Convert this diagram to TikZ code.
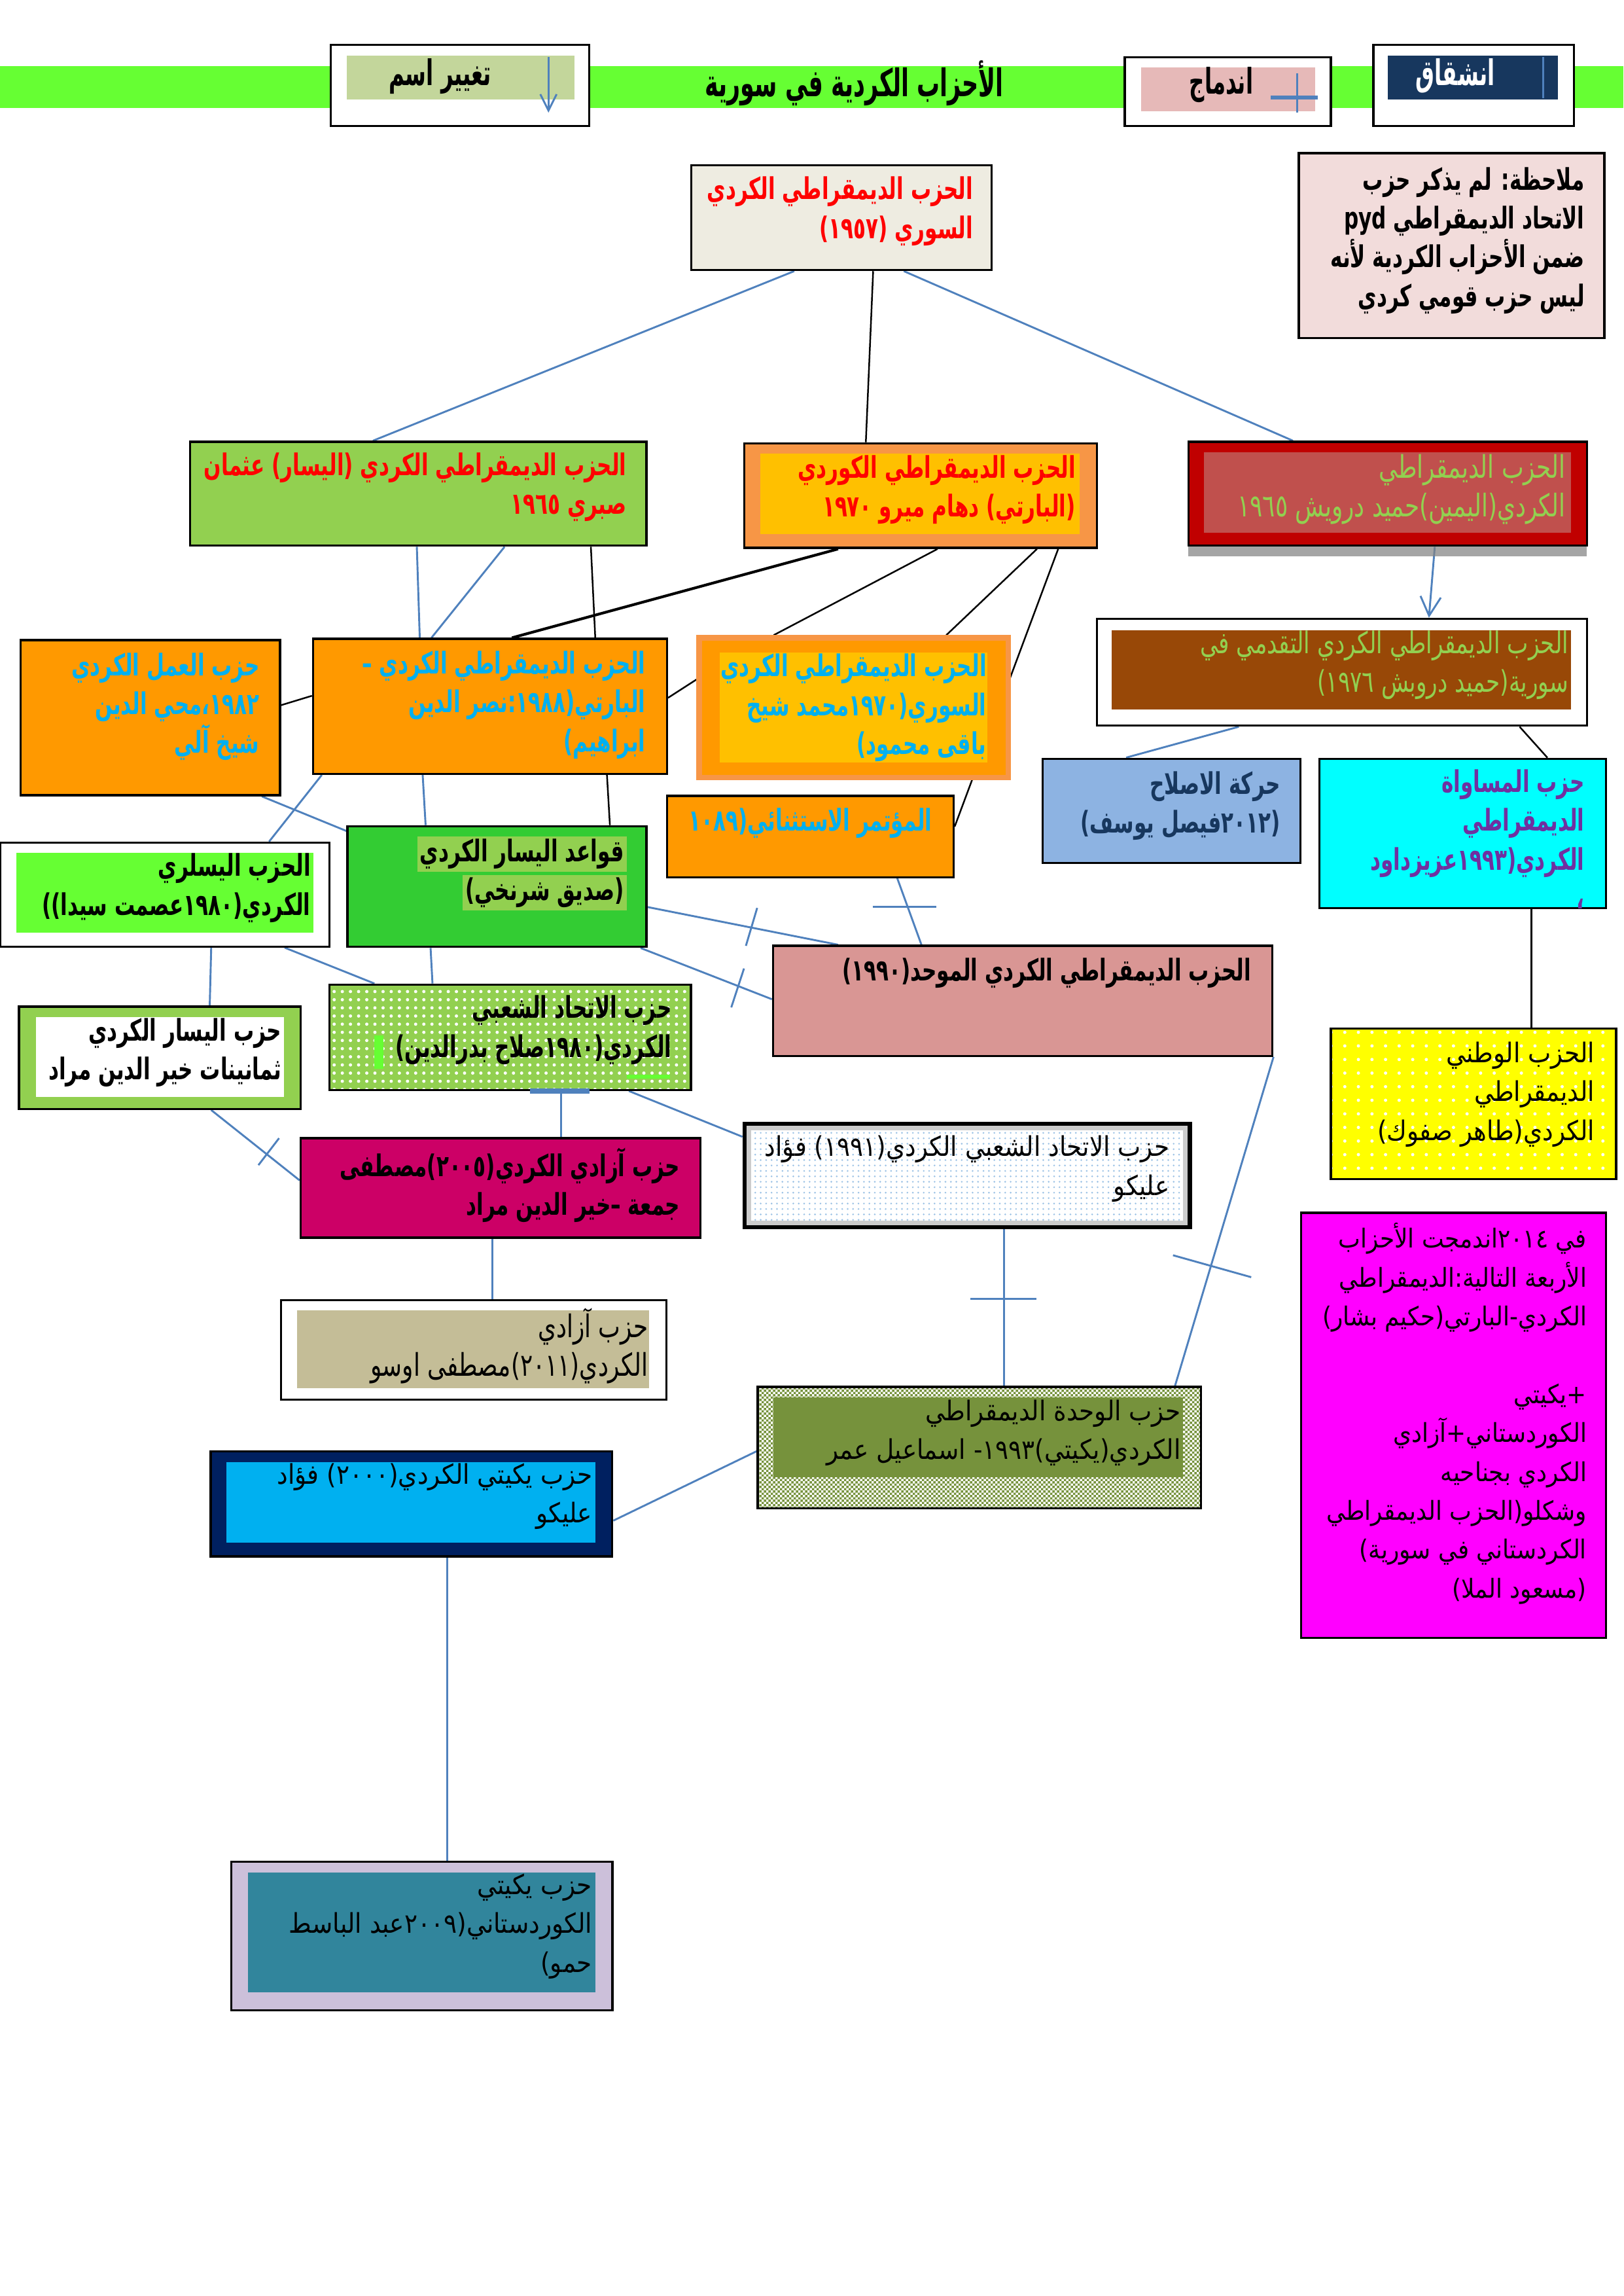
\documentclass[tikz,border=0pt]{standalone}
\usepackage{fontspec}
\newfontfamily\arabicfont[Script=Arabic,FakeStretch=0.68]{DejaVu Sans}
\newfontfamily\arabicmid[Script=Arabic,FakeStretch=0.75]{DejaVu Sans}
\newfontfamily\arabicwide[Script=Arabic,FakeStretch=0.9]{DejaVu Sans}
\newfontfamily\arabictight[Script=Arabic,FakeStretch=0.6]{DejaVu Sans}
\TeXXeTstate=1
\usetikzlibrary{patterns,patterns.meta,shadows,arrows.meta}
\newcommand{\pxu}{0.018919cm}
\setlength{\fboxsep}{1pt}
\lineskiplimit=-20pt
\pgfdeclarepatternformonly{finechecker}{\pgfpointorigin}{\pgfqpoint{1.8pt}{1.8pt}}{\pgfqpoint{1.8pt}{1.8pt}}{\pgfpathrectangle{\pgfpointorigin}{\pgfqpoint{0.9pt}{0.9pt}}\pgfpathrectangle{\pgfqpoint{0.9pt}{0.9pt}}{\pgfqpoint{0.9pt}{0.9pt}}\pgfusepath{fill}}
\definecolor{bandgreen}{HTML}{66FF33}
\definecolor{renamegreen}{HTML}{C3D69B}
\definecolor{mergepink}{HTML}{E6B9B8}
\definecolor{splitnavy}{HTML}{17375E}
\definecolor{pale}{HTML}{EEECE1}
\definecolor{notepink}{HTML}{F2DCDB}
\definecolor{leafgreen}{HTML}{92D050}
\definecolor{lightorange}{HTML}{F79646}
\definecolor{amber}{HTML}{FFC000}
\definecolor{darkred}{HTML}{C00000}
\definecolor{indian}{HTML}{C0504D}
\definecolor{rust}{HTML}{984807}
\definecolor{orange9}{HTML}{FF9900}
\definecolor{sky}{HTML}{00B0F0}
\definecolor{steel}{HTML}{8DB3E2}
\definecolor{navytext}{HTML}{17375E}
\definecolor{aqua}{HTML}{00FFFF}
\definecolor{grape}{HTML}{7030A0}
\definecolor{grass}{HTML}{33CC33}
\definecolor{rose}{HTML}{D99694}
\definecolor{crimson}{HTML}{CC0066}
\definecolor{khaki}{HTML}{C4BD97}
\definecolor{dotblue}{HTML}{9DC3E6}
\definecolor{moss}{HTML}{76923C}
\definecolor{navy}{HTML}{002060}
\definecolor{lavender}{HTML}{CCC0DA}
\definecolor{petrol}{HTML}{31859C}
\definecolor{linkblue}{HTML}{4F81BD}
\definecolor{yellowbox}{HTML}{FFFF00}
\definecolor{magentabox}{HTML}{FF00FF}
\definecolor{redtext}{HTML}{FF0000}
\pgfdeclarelayer{background}
\pgfsetlayers{background,main}
\tikzset{
  box/.style={draw=black, line width=0.8pt, rectangle, inner sep=0pt},
  wh/.style 2 args={minimum width=#1*\pxu, minimum height=#2*\pxu},
  band/.style n args={5}{path picture={\fill[#1] ([shift={(#2,#3)}]path picture bounding box.north west) rectangle ([shift={(-#4,-#5)}]path picture bounding box.south east);}},
  txt/.style={inner sep=0pt, anchor=east, align=right, font=\arabicfont\bfseries\fontsize{11}{14.3}\selectfont},
  lighttxt/.style={font=\arabicmid\fontsize{11.5}{14.3}\selectfont},
  rtxt/.style={inner sep=0pt, anchor=east, align=right, font=\arabicwide\fontsize{10}{14.3}\selectfont},
  legend/.style={inner sep=0pt, font=\arabictight\bfseries\fontsize{13}{15}\selectfont},
  link/.style={draw=linkblue, line width=0.7pt},
  blk/.style={draw=black, line width=0.6pt},
}
\begin{document}
\begin{tikzpicture}[x=0.018919cm, y=-0.018919cm]
  \useasboundingbox (0,0) rectangle (1110,1569.4);
  \fill[bandgreen] (0,45) rectangle (1110,74);
  \node[box, fill=white, wh={177}{55.5}, band={renamegreen}{11}{7.5}{10}{18}] (rename) at (314.5,58.25) {};
  \node[legend] (renamet) at (301,52) {\beginR تغيير اسم\endR};
  \draw[link, -{Straight Barb[length=6pt,width=6pt]}] (375,39) -- (375,77);
  \node[box, fill=white, wh={141}{47}, band={mergepink}{11}{7}{11}{10}] (merge) at (839.5,62.5) {};
  \node[legend] (merget) at (835,58) {\beginR اندماج\endR};
  \draw[link] (887,50) -- (887,77);
  \draw[link, line width=1.6pt] (869,66.7) -- (901,66.7);
  \node[box, fill=white, wh={137}{55.5}, band={splitnavy}{10}{7.5}{11}{18}] (split) at (1007.5,58.25) {};
  \node[legend, text=white] (splitt) at (995,52) {\beginR انشقاق\endR};
  \draw[link] (1055,39) -- (1055,67);
  \node[legend, font=\arabictight\bfseries\fontsize{14}{16}\selectfont] (title) at (584,57) {\beginR الأحزاب الكردية في سورية\endR};

  \node[box, fill=pale, wh={205.3}{71.6}, label={[txt, text=redtext, xshift=-13*\pxu, yshift=4.5*\pxu, name=sdpt]east:{\beginR الحزب الديمقراطي الكردي\endR\\\beginR السوري  (١٩٥٧)\endR}}] (sdp) at (575.35,148.8) {};
  \node[box, fill=notepink, wh={209}{126.3}, label={[txt, xshift=-14*\pxu, yshift=3.5*\pxu, name=notet]east:{\beginR ملاحظة: لم يذكر حزب\endR\\\beginR الاتحاد الديمقراطي pyd\endR\\\beginR ضمن الأحزاب الكردية لأنه\endR\\\beginR ليس حزب قومي كردي\endR}}] (note) at (992.5,167.85) {};
  \node[box, fill=leafgreen, wh={312}{71}, label={[txt, text=redtext, xshift=-14*\pxu, yshift=4.5*\pxu, name=lspt]east:{\beginR الحزب الديمقراطي الكردي (اليسار) عثمان\endR\\\beginR صبري ١٩٦٥\endR}}] (lsp) at (286,337.5) {};
  \node[box, fill=lightorange, wh={241}{71.5}, band={amber}{11}{7}{12}{9.5}, label={[txt, text=redtext, xshift=-15*\pxu, yshift=4*\pxu, name=barti70t]east:{\beginR الحزب الديمقراطي الكوردي\endR\\\beginR (البارتي) دهام ميرو  ١٩٧٠\endR}}] (barti70) at (629.5,338.75) {};
  \node[box, fill=darkred, wh={272.5}{71}, band={indian}{10.5}{7}{11}{9}, drop shadow={shadow xshift=0pt, shadow yshift=-4pt, fill=black!50, opacity=0.7}, label={[txt, lighttxt, text=leafgreen, xshift=-15*\pxu, yshift=3*\pxu, name=rspt]east:{\beginR الحزب الديمقراطي\endR\\\beginR الكردي(اليمين)حميد درويش ١٩٦٥\endR}}] (rsp) at (948.75,337.5) {};
  \node[box, fill=white, wh={335}{73}, band={rust}{10}{8}{11}{11}, label={[txt, lighttxt, font=\arabicmid\fontsize{11}{14.3}\selectfont, text=leafgreen, xshift=-13*\pxu, yshift=5*\pxu, name=progt]east:{\beginR الحزب الديمقراطي الكردي التقدمي في\endR\\\beginR سورية(حميد دروبش ١٩٧٦)\endR}}] (prog) at (917.5,459.5) {};

  \node[box, fill=orange9, wh={177.5}{106}, label={[txt, text=sky, xshift=-14.5*\pxu, yshift=7.6*\pxu, name=amalt]east:{\beginR حزب العمل الكردي\endR\\\beginR ١٩٨٢،محي الدين\endR\\\beginR شيخ آلي\endR}}] (amal) at (102.75,490.6) {};
  \node[box, fill=orange9, wh={242}{92.3}, label={[txt, text=sky, xshift=-15*\pxu, yshift=1*\pxu, name=barti88t]east:{\beginR الحزب الديمقراطي الكردي –\endR\\\beginR البارتي(١٩٨٨:نصر الدين\endR\\\beginR ابراهيم)\endR}}] (barti88) at (335,482.85) {};
  \node[box, draw=lightorange, line width=2pt, fill=orange9, wh={211.5}{95.6}, band={amber}{14}{10}{14.5}{10.6}, label={[txt, text=sky, xshift=-16.5*\pxu, name=sdps70t]east:{\beginR الحزب الديمقراطي الكردي\endR\\\beginR السوري(١٩٧٠محمد شيخ\endR\\\beginR باقى محمود)\endR}}] (sdps70) at (583.75,483.8) {};
  \node[box, fill=orange9, wh={196}{55.6}, label={[txt, text=sky, xshift=-15*\pxu, yshift=9*\pxu, name=mutamart]east:{\beginR المؤتمر الاستثنائي(١٠٨٩\endR}}] (mutamar) at (554,571.8) {};
  \node[box, fill=steel, wh={176}{71.2}, label={[txt, text=navytext, xshift=-14*\pxu, yshift=3.5*\pxu, name=islaht]east:{\beginR حركة الاصلاح\endR\\\beginR (٢٠١٢فيصل يوسف)\endR}}] (islah) at (801,554.2) {};
  \node[box, fill=aqua, wh={196}{102}, label={[txt, text=grape, xshift=-15*\pxu, yshift=-4*\pxu, name=equalt]east:{\beginR حزب المساواة\endR\\\beginR الديمقراطي\endR\\\beginR الكردي(١٩٩٣عزيزداود\endR\\\beginR ،\endR}}] (equal) at (1000,569.65) {};

  \node[box, fill=grass, wh={204.4}{82.5}, label={[txt, xshift=-14*\pxu, yshift=9*\pxu, name=qawaidt]east:{\colorbox{leafgreen}{\beginR قواعد اليسار الكردي\endR}\\\colorbox{leafgreen}{\beginR (صديق شرنخي)\endR}}}] (qawaid) at (339.8,606) {};
  \node[box, fill=white, wh={225.4}{71}, band={bandgreen}{11}{7}{11}{9.4}, label={[txt, xshift=-13.4*\pxu, yshift=4.5*\pxu, name=yasarit]east:{\beginR الحزب اليسلري\endR\\\beginR الكردي(١٩٨٠عصمت سيدا))\endR}}] (yasari) at (112.7,611.5) {};
  \node[box, fill=leafgreen, wh={192.6}{70}, band={white}{11.5}{7}{11.6}{8}, label={[txt, xshift=-13.6*\pxu, yshift=3.5*\pxu, name=yasart]east:{\beginR حزب اليسار الكردي\endR\\\beginR ثمانينات خير الدين مراد\endR}}] (yasar) at (109.3,723) {};
  \node[box, preaction={fill=leafgreen}, pattern={Dots[distance=3pt, radius=0.6pt]}, pattern color=white, wh={247}{72}, label={[txt, xshift=-13.5*\pxu, yshift=5*\pxu, name=shabi80t]east:{\beginR حزب الاتحاد الشعبي\endR\\\beginR الكردي(١٩٨٠صلاح بدرالدين)\endR}}] (shabi80) at (348.9,709) {};
  \fill[bandgreen] (255.8,707.7) rectangle (262,730.7);
  \fill[bandgreen] (428.4,734.5) rectangle (458.3,737.4);
  \node[box, fill=rose, wh={341.5}{75.2}, label={[txt, xshift=-15*\pxu, yshift=19*\pxu, name=pinkt]east:{\beginR الحزب الديمقراطي الكردي الموحد(١٩٩٠)\endR}}] (pink) at (699.25,684.1) {};
  \node[box, preaction={fill=yellowbox}, pattern={Dots[distance=5pt, radius=0.6pt]}, pattern color=white, wh={195}{103}, label={[rtxt, xshift=-15*\pxu, yshift=6.5*\pxu, name=yellowt]east:{\beginR الحزب الوطني\endR\\\beginR الديمقراطي\endR\\\beginR الكردي(طاهر صفوك)\endR}}] (yellow) at (1007.5,754.5) {};
  \node[box, fill=magentabox, wh={208.5}{290.5}, label={[rtxt, font=\arabicwide\fontsize{9.6}{14.3}\selectfont, xshift=-13.5*\pxu, yshift=8*\pxu, name=mergedt]east:{\beginR في ٢٠١٤اندمجت الأحزاب\endR\\\beginR الأربعة التالية:الديمقراطي\endR\\\beginR الكردي-البارتي(حكيم بشار)\endR\\[14.3pt]\beginR +يكيتي\endR\\\beginR الكوردستاني+آزادي\endR\\\beginR الكردي بجناحيه\endR\\\beginR وشكلو(الحزب الديمقراطي\endR\\\beginR الكردستاني في سورية)\endR\\\beginR (مسعود الملا)\endR}}] (merged) at (993.75,974.25) {};

  \node[box, fill=crimson, wh={273.4}{68}, label={[txt, xshift=-14.4*\pxu, yshift=2*\pxu, name=azadi05t]east:{\beginR حزب آزادي الكردي(٢٠٠٥)مصطفى\endR\\\beginR جمعة –خير الدين مراد\endR}}] (azadi05) at (342.3,812) {};
  \node[box, fill=white, wh={263.7}{68}, band={khaki}{11}{7.2}{11.7}{7.6}, label={[txt, lighttxt, xshift=-13*\pxu, yshift=2.6*\pxu, name=azadi11t]east:{\beginR حزب آزادي\endR\\\beginR الكردي(٢٠١١)مصطفى اوسو\endR}}] (azadi11) at (323.85,922.6) {};
  \node[box, line width=1.5pt, preaction={fill=white}, pattern={Dots[distance=2pt, radius=0.35pt]}, pattern color=dotblue, wh={304.5}{70.8}, path picture={\draw[black!20, line width=5pt] (path picture bounding box.north west) rectangle (path picture bounding box.south east);}, label={[rtxt, xshift=-14.8*\pxu, yshift=4.4*\pxu, name=shabi91t]east:{\beginR حزب الاتحاد الشعبي الكردي(١٩٩١) فؤاد\endR\\\beginR عليكو\endR}}] (shabi91) at (661.25,803.4) {};
  \node[box, preaction={fill=white}, pattern=finechecker, pattern color=moss, wh={303}{83}, band={moss}{10.6}{7}{12}{21.5}, label={[rtxt, xshift=-14*\pxu, yshift=10*\pxu, name=uniont]east:{\beginR حزب الوحدة الديمقراطي\endR\\\beginR الكردي(يكيتي)١٩٩٣- اسماعيل عمر\endR}}] (union) at (669.5,989.5) {};
  \node[box, fill=navy, wh={274.6}{71.8}, band={sky}{11}{7.6}{11.6}{9.4}, label={[rtxt, xshift=-14*\pxu, yshift=5*\pxu, name=yek2000t]east:{\beginR حزب يكيتي الكردي(٢٠٠٠) فؤاد\endR\\\beginR عليكو\endR}}] (yek2000) at (281.3,1027.9) {};
  \node[box, fill=lavender, wh={260.8}{101.4}, band={petrol}{11.4}{7.4}{11.8}{12.2}, label={[rtxt, xshift=-14.3*\pxu, yshift=6.6*\pxu, name=kurdt]east:{\beginR حزب يكيتي\endR\\\beginR الكوردستاني(٢٠٠٩عبد الباسط\endR\\\beginR حمو)\endR}}] (kurd) at (288.4,1323.3) {};

  \begin{pgfonlayer}{background}
    \fill[white] (0,0) rectangle (1110,1569.4);
    \begin{scope}[link]
      \draw (543,0 |- sdp.south) to (255,0 |- lsp.north);
      \draw (618,0 |- sdp.south) to (884,0 |- rsp.north);
      \draw (285,0 |- lsp.south) to (287,0 |- barti88.north);
      \draw (345,0 |- lsp.south) to (295,0 |- barti88.north);
      \draw (289,0 |- barti88.south) to (291,0 |- qawaid.north);
      \draw (220,0 |- barti88.south) to (184,0 |- yasari.north);
      \draw (179,0 |- amal.south) to (qawaid.west |- 0,568);
      \draw (qawaid.east |- 0,620) to (573,0 |- pink.north);
      \draw (438,0 |- qawaid.south) to (pink.west |- 0,683);
      \draw (613.5,0 |- mutamar.south) to (630,0 |- pink.north);
      \draw (294.4,0 |- qawaid.south) to (295.7,0 |- shabi80.north);
      \draw (144.4,0 |- yasari.south) to (143.4,0 |- yasar.north);
      \draw (194.6,0 |- yasari.south) to (256,0 |- shabi80.north);
      \draw (430,0 |- shabi80.south) to (shabi91.west |- 0,777);
      \draw (383.6,0 |- shabi80.south) to (383.6,0 |- azadi05.north);
      \draw (144.4,0 |- yasar.south) to (azadi05.west |- 0,806.8);
      \draw (336.5,0 |- azadi05.south) to (336.5,0 |- azadi11.north);
      \draw (686.4,0 |- shabi91.south) to (686.4,0 |- union.north);
      \draw (pink.south east) to (803.4,0 |- union.north);
      \draw (union.west |- 0,992) to (yek2000.east |- 0,1039.4);
      \draw (305.6,0 |- yek2000.south) to (305.6,0 |- kurd.north);
      \draw (847,0 |- prog.south) to (770,0 |- islah.north);
      \draw[-{Straight Barb[length=7pt,width=7.5pt]}] (981,0 |- rsp.south) to (977,0 |- prog.north);
    \end{scope}
    \begin{scope}[blk]
      \draw (597,0 |- sdp.south) to (592,0 |- barti70.north);
      \draw (404,0 |- lsp.south) to (407,0 |- barti88.north);
      \draw[line width=1pt] (573,0 |- barti70.south) to (350,0 |- barti88.north);
      \draw (641,0 |- barti70.south) to (529,0 |- sdps70.north);
      \draw (709,0 |- barti70.south) to (647,0 |- sdps70.north);
      \draw (723.5,0 |- barti70.south) to (mutamar.east |- 0,565);
      \draw (amal.east |- 0,482) to (barti88.west |- 0,475.6);
      \draw (barti88.east |- 0,477) to (sdps70.west |- 0,464.5);
      \draw (415,0 |- barti88.south) to (417,0 |- qawaid.north);
      \draw (1039,0 |- prog.south) to (1058,0 |- equal.north);
      \draw (1047,0 |- equal.south) to (1047,0 |- yellow.north);
    \end{scope}
  \end{pgfonlayer}

  \draw[link] (517.7,620.6) -- (510,646.5);
  \draw[link] (508.7,662) -- (500,688.6);
  \draw[link] (596.6,620) -- (640,620);
  \draw[link] (176.7,796.4) -- (190.8,778);
  \draw[link, line width=2pt] (362.5,745.7) -- (403,745.7);
  \draw[link] (663.5,888) -- (708.7,888);
  \draw[link] (802,858) -- (855.5,873);
\end{tikzpicture}
\end{document}
